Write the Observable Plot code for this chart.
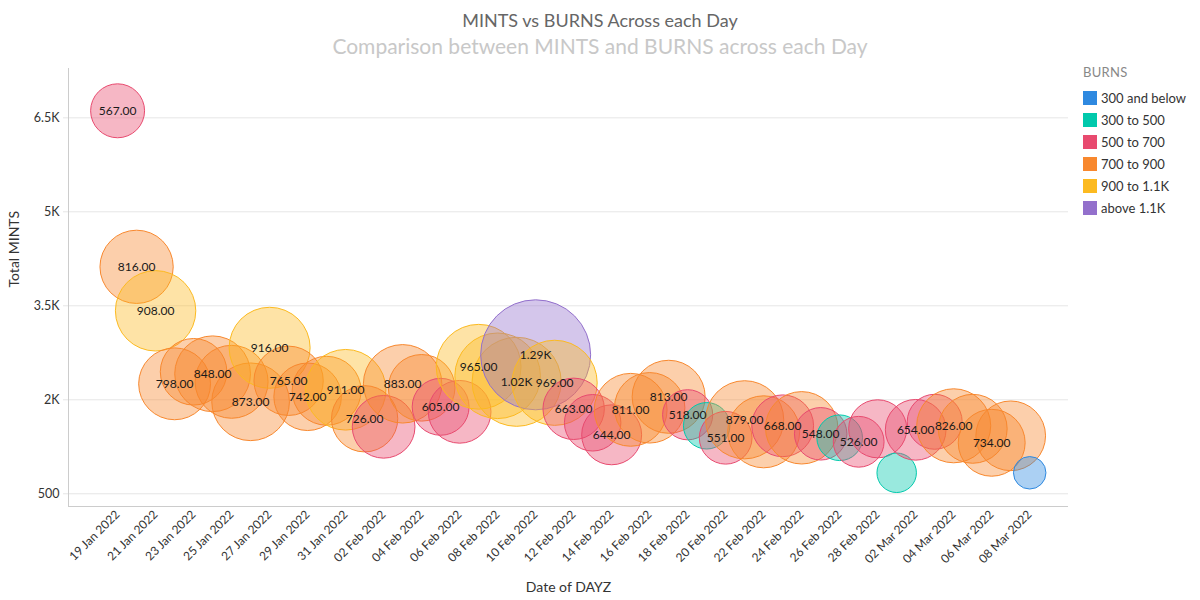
<!DOCTYPE html>
<html>
<head>
<meta charset="utf-8">
<script src="https://cdn.jsdelivr.net/npm/d3@7"></script>
<script src="https://cdn.jsdelivr.net/npm/@observablehq/plot@0.6"></script>
<style>
  html, body { margin: 0; padding: 0; background: #fff; }
  body { width: 1200px; height: 600px; position: relative; overflow: hidden; font-family: Lato, "Open Sans", sans-serif; }
  #chart { position: absolute; left: 0; top: 0; }
  .title { position: absolute; left: 0; width: 1200px; text-align: center; white-space: nowrap; }
  #title { top: 9px; font-size: 18px; color: #666; line-height: 22px; }
  #subtitle { top: 34px; font-size: 21px; color: #c8c8c8; line-height: 24px; }
  #legend { position: absolute; left: 1083px; top: 64px; font-size: 13px; color: #333; }
  #legend .head { color: #888; margin-bottom: 7px; letter-spacing: 0.3px; }
  #legend .item { display: flex; align-items: center; height: 22px; }
  #legend .sw { width: 14px; height: 14px; margin-right: 4px; }
</style>
</head>
<body>
<div id="chart"></div>
<div id="title" class="title">MINTS vs BURNS Across each Day</div>
<div id="subtitle" class="title">Comparison between MINTS and BURNS across each Day</div>
<div id="legend"></div>
<script>
// Daily totals
const days = [
  "2022-01-19","2022-01-20","2022-01-21","2022-01-22","2022-01-23","2022-01-24","2022-01-25",
  "2022-01-26","2022-01-27","2022-01-28","2022-01-29","2022-01-30","2022-01-31","2022-02-01",
  "2022-02-02","2022-02-03","2022-02-04","2022-02-05","2022-02-06","2022-02-07","2022-02-08",
  "2022-02-09","2022-02-10","2022-02-11","2022-02-12","2022-02-13","2022-02-14","2022-02-15",
  "2022-02-16","2022-02-17","2022-02-18","2022-02-19","2022-02-20","2022-02-21","2022-02-22",
  "2022-02-23","2022-02-24","2022-02-25","2022-02-26","2022-02-27","2022-02-28","2022-03-01",
  "2022-03-02","2022-03-03","2022-03-04","2022-03-05","2022-03-06","2022-03-07","2022-03-08"
];
const mints = [
  6612, 4122, 3420, 2255, 2447, 2415, 2287,
  1968, 2830, 2303, 2048, 2144, 2160, 1697,
  1569, 2255, 2191, 1888, 1808, 2527, 2383,
  2287, 2718, 2271, 1856, 1633, 1441, 1840,
  1872, 2048, 1761, 1585, 1394, 1681, 1489,
  1585, 1553, 1457, 1394, 1330, 1537, 835,
  1521, 1649, 1585, 1537, 1314, 1425, 835
];
const burns = [
  567, 816, 908, 798, 730, 848, 812,
  873, 916, 765, 742, 760, 911, 726,
  680, 883, 730, 605, 680, 965, 975,
  1020, 1290, 969, 663, 600, 644, 811,
  780, 813, 518, 470, 551, 879, 800,
  668, 805, 548, 460, 526, 620, 380,
  654, 580, 826, 760, 734, 770, 290
];
// Days whose bubble carries a value label
const labelledDays = [
  "2022-01-19","2022-01-20","2022-01-21","2022-01-22","2022-01-24","2022-01-26","2022-01-27",
  "2022-01-28","2022-01-29","2022-01-31","2022-02-01","2022-02-03","2022-02-05","2022-02-07",
  "2022-02-09","2022-02-10","2022-02-11","2022-02-12","2022-02-14","2022-02-15","2022-02-17",
  "2022-02-18","2022-02-20","2022-02-21","2022-02-23","2022-02-25","2022-02-27","2022-03-02",
  "2022-03-04","2022-03-06"
];

// BURNS bands
const bandLabels = ["300 and below", "300 to 500", "500 to 700", "700 to 900", "900 to 1.1K", "above 1.1K"];
const bandBreaks = [300, 500, 700, 900, 1100];
const bandColours = ["#2e89e0", "#00c9ac", "#e84a6f", "#f8882e", "#fcba20", "#9370cc"];

// Y axis ticks
const yTicks = [500, 2000, 3500, 5000, 6500];

const parse = d3.utcParse("%Y-%m-%d");
const rows = days.map((d, i) => ({date: parse(d), day: d, mints: mints[i], burns: burns[i]}));
const xTicks = rows.filter((r, i) => i % 2 === 0).map(r => r.date);

const fmtValue = v => v >= 1000 ? (v / 1000).toFixed(2) + "K" : v.toFixed(2);
const fmtY = v => v >= 1000 ? (v / 1000) + "K" : String(v);
const fmtDate = d3.utcFormat("%d %b %Y");

const xDomain = [new Date(Date.UTC(2022, 0, 16, 10)), new Date(Date.UTC(2022, 2, 10, 1))];
const yDomain = [297, 7287];

const chart = Plot.plot({
  width: 1200,
  height: 600,
  marginLeft: 68,
  marginRight: 132,
  marginTop: 68,
  marginBottom: 94,
  style: {fontFamily: "Lato, 'Open Sans', sans-serif", fontSize: "12px", color: "#333", background: "#fff"},
  x: {type: "utc", domain: xDomain},
  y: {domain: yDomain},
  r: {type: "linear", domain: [0, 1290], range: [5, 55]},
  color: {type: "threshold", domain: bandBreaks, range: bandColours},
  marks: [
    Plot.gridY(yTicks, {stroke: "#e6e6e6", strokeOpacity: 1}),
    Plot.axisY(yTicks, {tickSize: 5, tickPadding: 4, stroke: "#e6e6e6", tickFormat: fmtY, label: null, fontSize: 12.5, fill: "#333"}),
    Plot.axisX(xTicks, {tickRotate: -45, tickSize: 0, tickPadding: 6, tickFormat: fmtDate, label: null, fontSize: 12, fill: "#333"}),
    Plot.ruleX([xDomain[0]], {stroke: "#cccccc"}),
    Plot.ruleY([yDomain[0]], {stroke: "#cccccc"}),
    Plot.dot(rows, {x: "date", y: "mints", r: "burns", fill: "burns", fillOpacity: 0.4, stroke: "burns", strokeWidth: 1, sort: null}),
    Plot.text(rows.filter(r => labelledDays.includes(r.day)), {x: "date", y: "mints", text: r => fmtValue(r.burns), fill: "#1a1a1a", fontSize: 12}),
    Plot.text(["Date of DAYZ"], {frameAnchor: "bottom", dy: 85, fontSize: 14, fill: "#333"}),
    Plot.text(["Total MINTS"], {frameAnchor: "left", dx: -54, rotate: -90, fontSize: 14, fill: "#333"})
  ]
});
document.getElementById("chart").appendChild(chart);

// Legend
const legend = document.getElementById("legend");
const head = document.createElement("div");
head.className = "head";
head.textContent = "BURNS";
legend.appendChild(head);
bandLabels.forEach((label, i) => {
  const item = document.createElement("div");
  item.className = "item";
  const sw = document.createElement("div");
  sw.className = "sw";
  sw.style.background = bandColours[i];
  const tx = document.createElement("span");
  tx.textContent = label;
  item.appendChild(sw);
  item.appendChild(tx);
  legend.appendChild(item);
});
</script>
</body>
</html>
